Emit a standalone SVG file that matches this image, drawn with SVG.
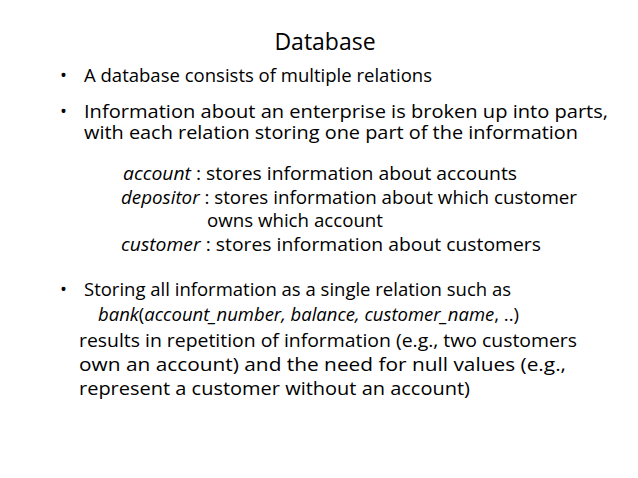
<svg xmlns="http://www.w3.org/2000/svg" width="638" height="478" viewBox="0 0 638 478">
<style>
text{font-family:"Open Sans","Liberation Sans",sans-serif;font-size:18.5px;fill:#000}
.t{font-size:23px}
</style>
<rect width="638" height="478" fill="#fff"/>
<g id="title"><text class="t" x="325" y="50" text-anchor="middle">Database</text></g>
<g id="b1"><text x="60" y="82">•</text><text x="84" y="82" textLength="348" lengthAdjust="spacingAndGlyphs">A database consists of multiple relations</text></g>
<g id="b2"><text x="60" y="118">•</text>
<text x="84" y="118" textLength="524" lengthAdjust="spacingAndGlyphs">Information about an enterprise is broken up into parts,</text>
<text x="84" y="139" textLength="494" lengthAdjust="spacingAndGlyphs">with  each relation storing one part of the information</text></g>
<g id="rels">
<text x="123" y="180" textLength="394" lengthAdjust="spacingAndGlyphs"><tspan font-style="italic">account</tspan> :   stores information about accounts</text>
<text x="121" y="204" textLength="456" lengthAdjust="spacingAndGlyphs"><tspan font-style="italic">depositor</tspan> : stores information about which customer</text>
<text x="207" y="227" textLength="176" lengthAdjust="spacingAndGlyphs">owns which account</text>
<text x="121" y="251" textLength="420" lengthAdjust="spacingAndGlyphs"><tspan font-style="italic">customer</tspan> : stores information about customers</text>
</g>
<g id="b3"><text x="60" y="296">•</text>
<text x="84" y="296" textLength="427" lengthAdjust="spacingAndGlyphs">Storing all information as a single relation such as</text>
<text x="98" y="321" textLength="421" lengthAdjust="spacingAndGlyphs"><tspan font-style="italic">bank</tspan>(<tspan font-style="italic">account_number, balance, customer_name</tspan>, ..)</text>
<text x="79" y="347" textLength="498" lengthAdjust="spacingAndGlyphs">results in repetition of information (e.g., two customers</text>
<text x="79" y="371" textLength="487" lengthAdjust="spacingAndGlyphs">own an account) and the need for null values  (e.g.,</text>
<text x="79" y="395" textLength="391" lengthAdjust="spacingAndGlyphs">represent a customer without an account)</text>
</g>
</svg>
